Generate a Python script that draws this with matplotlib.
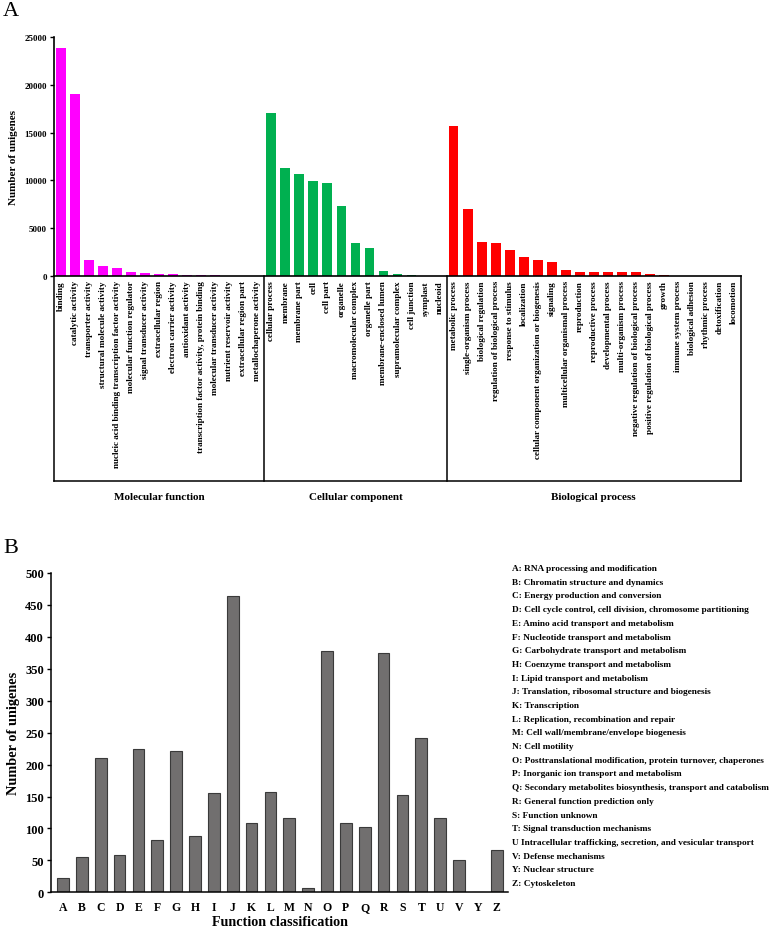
import matplotlib
matplotlib.use("Agg")
import matplotlib.pyplot as plt
import numpy as np

plt.rcParams['font.family'] = ['Liberation Serif', 'DejaVu Serif']
plt.rcParams['font.weight'] = 'bold'

# ---------------- Panel A data (GO) ----------------
mf_terms = ["binding", "catalytic activity", "transporter activity", "structural molecule activity",
            "nucleic acid binding transcription factor activity", "molecular function regulator",
            "signal transducer activity", "extracellular region", "electron carrier activity",
            "antioxidant activity", "transcription factor activity, protein binding",
            "molecular transducer activity", "nutrient reservoir activity",
            "extracellular region part", "metallochaperone activity"]
mf_vals = [23800, 19000, 1700, 1050, 860, 450, 270, 260, 230, 140, 120, 100, 20, 12, 6]

cc_terms = ["cellular process", "membrane", "membrane part", "cell", "cell part", "organelle",
            "macromolecular complex", "organelle part", "membrane-enclosed lumen",
            "supramolecular complex", "cell junction", "symplast", "nucleoid"]
cc_vals = [17000, 11250, 10700, 9950, 9780, 7300, 3430, 2920, 520, 220, 60, 50, 20]

bp_terms = ["metabolic process", "single-organism process", "biological regulation",
            "regulation of biological process", "response to stimulus", "localization",
            "cellular component organization or biogenesis", "signaling",
            "multicellular organismal process", "reproduction", "reproductive process",
            "developmental process", "multi-organism process",
            "negative regulation of biological process", "positive regulation of biological process",
            "growth", "immune system process", "biological adhesion", "rhythmic process",
            "detoxification", "locomotion"]
bp_vals = [15650, 7020, 3600, 3420, 2700, 2000, 1720, 1480, 600, 470, 460, 430, 400, 370, 260,
           60, 50, 12, 10, 6, 5]

group_names = ["Molecular function", "Cellular component", "Biological process"]
group_colors = ["#FF00FF", "#00B050", "#FF0000"]
a_yticks = [0, 5000, 10000, 15000, 20000, 25000]

# ---------------- Panel B data (COG) ----------------
cog_letters = ["A", "B", "C", "D", "E", "F", "G", "H", "I", "J", "K", "L", "M", "N", "O", "P",
               "Q", "R", "S", "T", "U", "V", "Y", "Z"]
cog_vals = [22, 55, 211, 58, 224, 82, 221, 88, 155, 464, 108, 157, 116, 7, 378, 109, 102, 374,
            152, 242, 116, 50, 0, 67]
cog_desc = ["A: RNA processing and modification",
            "B: Chromatin structure and dynamics",
            "C: Energy production and conversion",
            "D: Cell cycle control, cell division, chromosome partitioning",
            "E: Amino acid transport and metabolism",
            "F: Nucleotide transport and metabolism",
            "G: Carbohydrate transport and metabolism",
            "H: Coenzyme transport and metabolism",
            "I: Lipid transport and metabolism",
            "J: Translation, ribosomal structure and biogenesis",
            "K: Transcription",
            "L: Replication, recombination and repair",
            "M: Cell wall/membrane/envelope biogenesis",
            "N: Cell motility",
            "O: Posttranslational modification, protein turnover, chaperones",
            "P: Inorganic ion transport and metabolism",
            "Q: Secondary metabolites biosynthesis, transport and catabolism",
            "R: General function prediction only",
            "S: Function unknown",
            "T: Signal transduction mechanisms",
            "U Intracellular trafficking, secretion, and vesicular transport",
            "V: Defense mechanisms",
            "Y: Nuclear structure",
            "Z: Cytoskeleton"]
b_yticks = list(range(0, 501, 50))

W, H = 780, 929
fig = plt.figure(figsize=(W / 100, H / 100), dpi=100)

def fr(x0, y_top, x1, y_bot):
    return [x0 / W, 1 - y_bot / H, (x1 - x0) / W, (y_bot - y_top) / H]

# ---------------- Panel A ----------------
axA = fig.add_axes(fr(54, 38, 741, 277))
terms = mf_terms + cc_terms + bp_terms
vals = mf_vals + cc_vals + bp_vals
groups = [mf_terms, cc_terms, bp_terms]
colors = []
for g, c in zip(groups, group_colors):
    colors += [c] * len(g)
x = np.arange(len(terms))
axA.bar(x, vals, width=0.7, color=colors, linewidth=0)
axA.set_xlim(-0.5, len(terms) - 0.5)
axA.set_ylim(0, 25000)
axA.set_yticks(a_yticks)
axA.set_yticklabels([str(v) for v in a_yticks], fontsize=6.5, fontweight='bold')
axA.set_xticks(x)
axA.set_xticklabels(terms, rotation=90, fontsize=6.6, fontweight='bold', va='top', ha='center')
axA.tick_params(axis='x', length=0, pad=3)
axA.tick_params(axis='y', length=3, width=1, pad=2, direction='out')
for s in ['top', 'right']:
    axA.spines[s].set_visible(False)
axA.spines['left'].set_linewidth(1.2)
axA.spines['bottom'].set_linewidth(1.2)
axA.set_ylabel("Number of unigenes", fontsize=8, fontweight='bold', labelpad=4)
axA.yaxis.set_label_coords(-36 / 687, 0.5)

# box below axis
ybot = (277 - 482) / 239.0
trans = axA.get_xaxis_transform()
lkw = dict(color='black', lw=1.1, clip_on=False, transform=trans)
xl, xr = -0.5, len(terms) - 0.5
axA.plot([xl, xl], [0, ybot], **lkw)
axA.plot([xr, xr], [0, ybot], **lkw)
axA.plot([xl, xr], [ybot, ybot], **lkw)
b1 = len(mf_terms) - 0.5
b2 = len(mf_terms) + len(cc_terms) - 0.5
axA.plot([b1, b1], [0, ybot], **lkw)
axA.plot([b2, b2], [0, ybot], **lkw)
centers = [(xl + b1) / 2, (b1 + b2) / 2, (b2 + xr) / 2]
ylab = (277 - 497) / 239.0
for cx, name in zip(centers, group_names):
    axA.text(cx, ylab, name, transform=trans, ha='center', va='center',
             fontsize=8, fontweight='bold')

fig.text(3 / W, 1 - 12 / H, "A", fontsize=16, fontweight='normal', ha='left', va='center')

# ---------------- Panel B ----------------
axB = fig.add_axes(fr(51, 574, 508, 893.3))
xb = np.arange(len(cog_letters))
axB.bar(xb, cog_vals, width=0.62, color='#716F6F', edgecolor='#3A3A3A', linewidth=0.8)
axB.set_xlim(-0.64, len(cog_letters) - 0.4)
axB.set_ylim(0, 500)
axB.set_yticks(b_yticks)
axB.set_yticklabels([str(v) for v in b_yticks], fontsize=9, fontweight='bold')
axB.set_xticks(xb)
axB.set_xticklabels(cog_letters, fontsize=8.5, fontweight='bold')
axB.tick_params(axis='x', length=0, pad=6)
axB.tick_params(axis='y', length=3, width=1, pad=2, direction='out')
for s in ['top', 'right']:
    axB.spines[s].set_visible(False)
axB.spines['left'].set_linewidth(1.1)
axB.spines['bottom'].set_linewidth(1.1)
axB.set_ylabel("Number of unigenes", fontsize=10.3, fontweight='bold')
axB.yaxis.set_label_coords(-31 / 457, 0.5)
axB.set_xlabel("Function classification", fontsize=10.2, fontweight='bold', labelpad=2)

fig.text(3 / W, 1 - 549 / H, "B", fontsize=16, fontweight='normal', ha='left', va='center')

for i, d in enumerate(cog_desc):
    fig.text(512 / W, 1 - (569 + i * 13.7) / H, d, fontsize=6.7, fontweight='bold',
             ha='left', va='center')

fig.savefig("out.png", dpi=100)
